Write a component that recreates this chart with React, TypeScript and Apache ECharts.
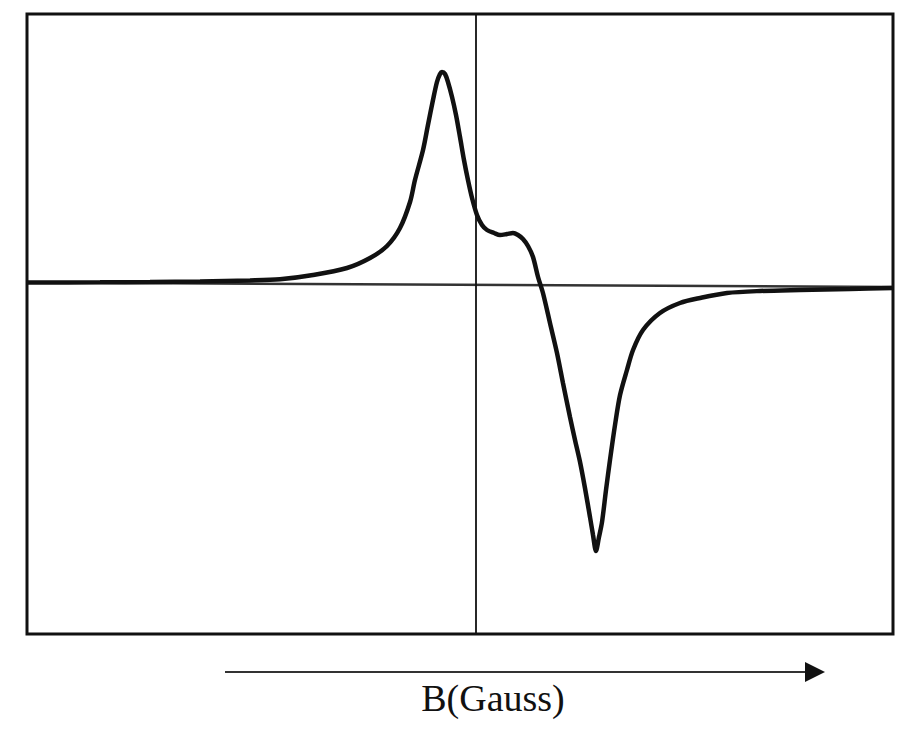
import React, { useEffect, useRef } from "react";
import * as echarts from "echarts";

// Field position (arbitrary units along B) and signal amplitude (arbitrary units)
const fieldX = [
  0, 8.43, 14.2, 19.98, 25.75, 29.21, 33.03, 36.95, 39.61, 41.57, 43.07, 44.23,
  44.8, 45.73, 46.3, 46.88, 47.34, 47.69, 47.92, 48.27, 48.61, 49.08, 49.54,
  50.0, 50.46, 50.92, 51.39, 51.96, 52.54, 53.12, 53.93, 54.62, 55.43, 56.12,
  56.7, 57.27, 57.85, 58.43, 59.01, 59.58, 60.39, 61.2, 61.89, 62.7, 63.28,
  63.86, 64.43, 65.01, 65.36, 65.7, 66.05, 66.4, 66.86, 67.32, 67.9, 68.48,
  69.28, 69.98, 71.13, 73.09, 75.4, 77.71, 80.83, 84.64, 89.26, 95.03, 100,
];
const signal = [
  0.15, 0.17, 0.2, 0.25, 0.35, 0.47, 0.9, 1.6, 2.6, 3.8, 5.6, 8.2,
  10.4, 13.4, 15.9, 18.4, 20.2, 21.0, 21.2, 21.0, 20.2, 18.7, 16.9,
  14.7, 12.4, 10.4, 8.6, 6.9, 5.9, 5.4, 5.1, 4.9, 5.0, 5.1,
  4.9, 4.5, 3.8, 2.7, 0.7, -0.9, -3.9, -6.9, -9.9, -13.3, -15.6,
  -17.8, -20.4, -23.3, -25.1, -26.7, -25.3, -23.8, -20.6, -17.6, -14.1, -11.1,
  -8.6, -6.6, -4.6, -2.9, -1.9, -1.4, -0.9, -0.7, -0.6, -0.5, -0.4,
];
const baselineX = [0, 100];
const baselineY = [0.15, -0.3];
const centerField = 51.85;
const axisTitle = "B(Gauss)";

export default function App() {
  const ref = useRef<HTMLDivElement>(null);
  useEffect(() => {
    document.body.style.margin = "0";
    const chart = echarts.init(ref.current!, undefined, { renderer: "svg" });
    chart.setOption({
      animation: false,
      backgroundColor: "#ffffff",
      grid: {
        left: 27,
        top: 14,
        width: 866,
        height: 620,
        show: true,
        borderColor: "#111111",
        borderWidth: 3,
        backgroundColor: "transparent",
      },
      xAxis: {
        type: "value",
        min: 0,
        max: 100,
        axisLine: { show: false },
        axisTick: { show: false },
        axisLabel: { show: false },
        splitLine: { show: false },
      },
      yAxis: {
        type: "value",
        min: -35,
        max: 27,
        axisLine: { show: false },
        axisTick: { show: false },
        axisLabel: { show: false },
        splitLine: { show: false },
      },
      series: [
        {
          type: "line",
          data: baselineX.map((x, i) => [x, baselineY[i]]),
          symbol: "none",
          lineStyle: { color: "#333333", width: 2.5 },
          z: 1,
          markLine: {
            symbol: "none",
            silent: true,
            label: { show: false },
            lineStyle: { color: "#111111", width: 1.8, type: "solid" },
            data: [{ xAxis: centerField }],
          },
        },
        {
          type: "line",
          data: fieldX.map((x, i) => [x, signal[i]]),
          symbol: "none",
          smooth: 0.3,
          lineStyle: { color: "#111111", width: 4.5 },
          z: 3,
        },
      ],
      graphic: [
        {
          type: "line",
          shape: { x1: 225, y1: 672, x2: 808, y2: 672 },
          style: { stroke: "#333333", lineWidth: 2 },
        },
        {
          type: "polygon",
          shape: { points: [[805, 662], [825, 672], [805, 682]] },
          style: { fill: "#111111" },
        },
        {
          type: "text",
          x: 493,
          y: 698,
          style: {
            text: axisTitle,
            font: '38px "Liberation Serif", "Times New Roman", serif',
            fill: "#111111",
            textAlign: "center",
            textVerticalAlign: "middle",
          },
        },
      ],
    });
    return () => chart.dispose();
  }, []);
  return (
    <div
      ref={ref}
      style={{ position: "absolute", left: 0, top: 0, width: 917, height: 734 }}
    />
  );
}
